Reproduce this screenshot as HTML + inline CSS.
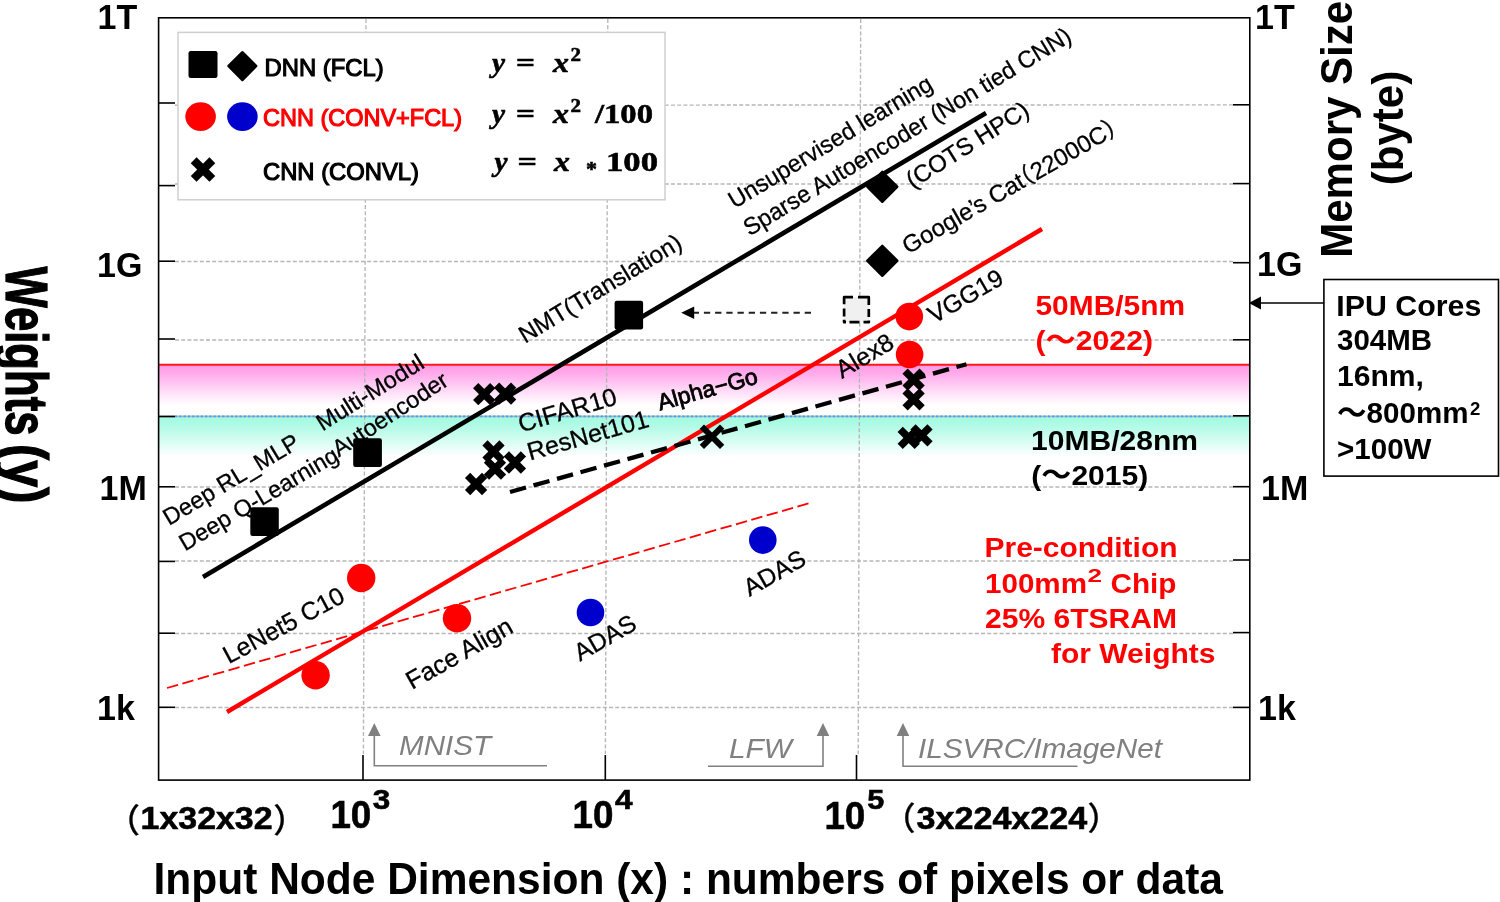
<!DOCTYPE html>
<html lang="en">
<head>
<meta charset="utf-8">
<title>Weights vs Input Node Dimension</title>
<style>
  html, body { margin: 0; padding: 0; background: #ffffff; }
  body { width: 1500px; height: 902px; overflow: hidden; }
  svg { display: block; }
  text { font-family: "Liberation Sans", "Noto Sans CJK JP", sans-serif; }
  .b { font-weight: bold; }
  .lbl { font-size: 24px; fill: #000; stroke: #000; stroke-width: 0.3px; }
  .grid { stroke: #b6b6b6; stroke-width: 1.35; stroke-dasharray: 4 2.2; fill: none; }
  .tick { stroke: #000; stroke-width: 1.6; fill: none; }
  .math { font-family: "Liberation Serif", "DejaVu Serif", serif; font-weight: bold; font-style: italic; font-size: 27px; }
  .mathn { font-family: "Liberation Serif", "DejaVu Serif", serif; font-weight: bold; font-size: 27px; }
</style>
</head>
<body>
<svg width="1500" height="902" viewBox="0 0 1500 902">
  <defs>
    <linearGradient id="gp" x1="0" y1="0" x2="0" y2="1">
      <stop offset="0" stop-color="#ff97e5"/>
      <stop offset="0.3" stop-color="#ffb4ed"/>
      <stop offset="0.65" stop-color="#ffdcf7"/>
      <stop offset="1" stop-color="#ffffff"/>
    </linearGradient>
    <linearGradient id="gc" x1="0" y1="0" x2="0" y2="1">
      <stop offset="0" stop-color="#a0fae0"/>
      <stop offset="0.3" stop-color="#b8fbe8"/>
      <stop offset="0.65" stop-color="#dcfdf4"/>
      <stop offset="1" stop-color="#ffffff"/>
    </linearGradient>
  </defs>
  <rect x="0" y="0" width="1500" height="902" fill="#ffffff"/>

  <!-- SECTION: bands -->
  <g id="bands">
    <rect x="159" y="365" width="1090" height="40" fill="url(#gp)"/>
    <rect x="159" y="417" width="1090" height="40" fill="url(#gc)"/>
  </g>

  <!-- SECTION: grid -->
  <g id="grid" class="grid">
    <line x1="175" y1="105.2" x2="1233" y2="104.9"/>
    <line x1="175" y1="184" x2="1233" y2="184"/>
    <line x1="175" y1="261.5" x2="1233" y2="261.5"/>
    <line x1="175" y1="340" x2="1233" y2="340"/>
    <line x1="175" y1="487" x2="1233" y2="487"/>
    <line x1="175" y1="561" x2="1233" y2="561"/>
    <line x1="175" y1="633.5" x2="1233" y2="633.5"/>
    <line x1="175" y1="707.5" x2="1233" y2="707.5"/>
    <line x1="366" y1="19" x2="363.4" y2="754"/>
    <line x1="607.8" y1="19" x2="605.4" y2="754"/>
    <line x1="860.7" y1="19" x2="858.2" y2="754"/>
  </g>
  <g id="band-lines">
    <line x1="159" y1="416.4" x2="1249" y2="416.4" stroke="#b4b4b4" stroke-width="1.6"/>
    <line x1="175" y1="416.4" x2="1233" y2="416.4" stroke="#3aa0ff" stroke-width="1.6" stroke-dasharray="2.1 2.2"/>
    <line x1="159" y1="364.7" x2="1249" y2="364.7" stroke="#ff1a1a" stroke-width="2"/>
  </g>

  <!-- SECTION: frame -->
  <g id="frame">
    <rect x="158.6" y="17.8" width="1091.2" height="762.3" fill="none" stroke="#000" stroke-width="1.6"/>
    <g class="tick">
      <line x1="158.6" y1="103" x2="175" y2="103"/>
      <line x1="158.6" y1="185.6" x2="175" y2="185.6"/>
      <line x1="158.6" y1="261.2" x2="175" y2="261.2"/>
      <line x1="158.6" y1="339" x2="175" y2="339"/>
      <line x1="158.6" y1="416.5" x2="175" y2="416.5"/>
      <line x1="158.6" y1="486.8" x2="175" y2="486.8"/>
      <line x1="158.6" y1="561.4" x2="175" y2="561.4"/>
      <line x1="158.6" y1="633.2" x2="175" y2="633.2"/>
      <line x1="158.6" y1="707.3" x2="175" y2="707.3"/>
      <line x1="1233" y1="104.8" x2="1249.8" y2="104.8"/>
      <line x1="1233" y1="183.6" x2="1249.8" y2="183.6"/>
      <line x1="1233" y1="262.7" x2="1249.8" y2="262.7"/>
      <line x1="1233" y1="339.8" x2="1249.8" y2="339.8"/>
      <line x1="1233" y1="415.8" x2="1249.8" y2="415.8"/>
      <line x1="1233" y1="486.7" x2="1249.8" y2="486.7"/>
      <line x1="1233" y1="560" x2="1249.8" y2="560"/>
      <line x1="1233" y1="632.6" x2="1249.8" y2="632.6"/>
      <line x1="1233" y1="707.4" x2="1249.8" y2="707.4"/>
      <line x1="363" y1="755" x2="363" y2="780"/>
      <line x1="605.3" y1="755" x2="605.3" y2="780"/>
      <line x1="856.5" y1="755" x2="856.5" y2="780"/>
    </g>
  </g>

  <!-- SECTION: axis-labels -->
  <g id="axis-labels" class="b" fill="#000">
    <text transform="translate(97.5 29.2) scale(0.958 1)" font-size="35.5">1T</text>
    <text transform="translate(97 277.2) scale(0.958 1)" font-size="35.5">1G</text>
    <text transform="translate(99.5 500) scale(0.958 1)" font-size="35.5">1M</text>
    <text transform="translate(97 720) scale(0.958 1)" font-size="35.5">1k</text>
    <text transform="translate(1255 28.7) scale(0.958 1)" font-size="35.5">1T</text>
    <text transform="translate(1257 276.3) scale(0.958 1)" font-size="35.5">1G</text>
    <text transform="translate(1261 499.7) scale(0.958 1)" font-size="35.5">1M</text>
    <text transform="translate(1258 719.8) scale(0.958 1)" font-size="35.5">1k</text>
    <text transform="translate(1351.5 129.3) rotate(-90)" text-anchor="middle" font-size="43.5" textLength="257" lengthAdjust="spacingAndGlyphs">Memory Size</text>
    <text transform="translate(1403.2 128) rotate(-90)" text-anchor="middle" font-size="43.5" textLength="114.5" lengthAdjust="spacingAndGlyphs">(byte)</text>
    <text transform="translate(6.2 266.5) rotate(90)" font-size="58.5" stroke="#000" stroke-width="1.3" textLength="169" lengthAdjust="spacingAndGlyphs">Weights</text>
    <text transform="translate(6.2 444) rotate(90)" font-size="58.5" stroke="#000" stroke-width="1.3" textLength="59.5" lengthAdjust="spacingAndGlyphs">(y)</text>
    <text x="153.5" y="893.6" font-size="44.5" textLength="1069.5" lengthAdjust="spacingAndGlyphs">Input Node Dimension (x) : numbers of pixels or data</text>
  </g>

  <!-- SECTION: xlabels -->
  <g id="xlabels" class="b" fill="#000" stroke="#000" stroke-width="0.6">
    <text transform="translate(330.4 827.5) scale(0.955 1)" font-size="38.5">10</text>
    <text x="372.8" y="808.7" font-size="27.5" textLength="17.5" lengthAdjust="spacingAndGlyphs">3</text>
    <text transform="translate(572.6 827.5) scale(0.955 1)" font-size="38.5">10</text>
    <text x="615" y="808.7" font-size="27.5" textLength="17.5" lengthAdjust="spacingAndGlyphs">4</text>
    <text transform="translate(824.4 828.5) scale(0.955 1)" font-size="38.5">10</text>
    <text x="867.3" y="809.2" font-size="27.5" textLength="17" lengthAdjust="spacingAndGlyphs">5</text>
    <text x="107" y="831.8" font-size="33" font-weight="500" stroke-width="0.3">（</text>
    <text x="140.6" y="829.4" font-size="31.8" textLength="132" lengthAdjust="spacingAndGlyphs">1x32x32</text>
    <text x="273.3" y="831.8" font-size="33" font-weight="500" stroke-width="0.3">）</text>
    <text x="883.4" y="830" font-size="32" font-weight="500" stroke-width="0.3">（</text>
    <text x="916.6" y="828.6" font-size="31.6" textLength="170.6" lengthAdjust="spacingAndGlyphs">3x224x224</text>
    <text x="1087.4" y="830" font-size="32" font-weight="500" stroke-width="0.3">）</text>
  </g>
  <!-- SECTION: legend -->
  <g id="legend">
    <rect x="178" y="32.4" width="487" height="167.4" fill="#ffffff" stroke="#cfcfcf" stroke-width="1.5"/>
    <rect x="188.5" y="51" width="29" height="27" rx="2.2" fill="#000"/>
    <path d="M242.4 52.6 L255.9 66 L242.4 79.6 L228.8 66 Z" fill="#000" stroke="#000" stroke-width="3" stroke-linejoin="round"/>
    <ellipse cx="200.6" cy="116.6" rx="15.3" ry="14.4" fill="#ff0000"/>
    <ellipse cx="242.4" cy="116.6" rx="15.3" ry="14.4" fill="#0000cc"/>
    <g fill="#000"><g transform="translate(203 169.6) rotate(45)"><rect x="-13.22" y="-4.10" width="26.45" height="8.20"/><rect x="-4.10" y="-13.22" width="8.20" height="26.45"/></g></g>
    <g font-size="24" stroke-width="1.15">
      <text x="264.6" y="76" fill="#000" stroke="#000" textLength="119" lengthAdjust="spacingAndGlyphs">DNN (FCL)</text>
      <text x="263" y="126" fill="#ff0000" stroke="#ff0000" textLength="199" lengthAdjust="spacingAndGlyphs">CNN (CONV+FCL)</text>
      <text x="263" y="180" fill="#000" stroke="#000" textLength="156" lengthAdjust="spacingAndGlyphs">CNN (CONVL)</text>
    </g>
    <g fill="#000" stroke="#000" stroke-width="0.55">
      <text class="math" x="492" y="72" textLength="13" lengthAdjust="spacingAndGlyphs">y</text>
      <text class="mathn" x="516" y="72" textLength="19" lengthAdjust="spacingAndGlyphs">=</text>
      <text class="math" x="553" y="72" textLength="16" lengthAdjust="spacingAndGlyphs">x</text>
      <text class="mathn" x="570.5" y="61" style="font-size:19px" textLength="10.5" lengthAdjust="spacingAndGlyphs">2</text>
      <text class="math" x="492" y="123" textLength="13" lengthAdjust="spacingAndGlyphs">y</text>
      <text class="mathn" x="516" y="123" textLength="19" lengthAdjust="spacingAndGlyphs">=</text>
      <text class="math" x="553" y="123" textLength="16" lengthAdjust="spacingAndGlyphs">x</text>
      <text class="mathn" x="570.5" y="112" style="font-size:19px" textLength="10.5" lengthAdjust="spacingAndGlyphs">2</text>
      <text class="mathn" x="595" y="123" textLength="58" lengthAdjust="spacingAndGlyphs">/100</text>
      <text class="math" x="494.5" y="171" textLength="13" lengthAdjust="spacingAndGlyphs">y</text>
      <text class="mathn" x="517.5" y="171" textLength="19.5" lengthAdjust="spacingAndGlyphs">=</text>
      <text class="math" x="554" y="171" textLength="16" lengthAdjust="spacingAndGlyphs">x</text>
      <text class="mathn" x="586" y="176" style="font-size:22px">*</text>
      <text class="mathn" x="606" y="171" textLength="52" lengthAdjust="spacingAndGlyphs">100</text>
    </g>
  </g>
  <!-- SECTION: lines -->
  <g id="lines" fill="none">
    <line x1="167" y1="688" x2="810" y2="503" stroke="#ff0000" stroke-width="1.8" stroke-dasharray="11.5 4.5"/>
    <line x1="203" y1="577" x2="986" y2="113" stroke="#000" stroke-width="4.6"/>
    <line x1="227" y1="712" x2="1042" y2="229" stroke="#ff0000" stroke-width="4.4"/>
    <line x1="510" y1="492" x2="966.5" y2="364.2" stroke="#000" stroke-width="4.3" stroke-dasharray="16.6 7.8"/>
    <line x1="811" y1="312.8" x2="693" y2="312.8" stroke="#222" stroke-width="1.9" stroke-dasharray="6.3 4.9"/>
    <path d="M681.2 312.8 L694.2 306.5 L694.2 319.1 Z" fill="#000"/>
  </g>
  <!-- SECTION: markers -->
  <g id="markers">
    <g fill="#000">
      <g transform="translate(484.2 394.1) rotate(45)"><rect x="-12.07" y="-3.70" width="24.14" height="7.40"/><rect x="-3.70" y="-12.07" width="7.40" height="24.14"/></g>
      <g transform="translate(505.1 393.6) rotate(45)"><rect x="-12.07" y="-3.70" width="24.14" height="7.40"/><rect x="-3.70" y="-12.07" width="7.40" height="24.14"/></g>
      <g transform="translate(493.5 451.5) rotate(45)"><rect x="-12.07" y="-3.70" width="24.14" height="7.40"/><rect x="-3.70" y="-12.07" width="7.40" height="24.14"/></g>
      <g transform="translate(514.9 462.5) rotate(45)"><rect x="-12.07" y="-3.70" width="24.14" height="7.40"/><rect x="-3.70" y="-12.07" width="7.40" height="24.14"/></g>
      <g transform="translate(495 468.6) rotate(45)"><rect x="-12.07" y="-3.70" width="24.14" height="7.40"/><rect x="-3.70" y="-12.07" width="7.40" height="24.14"/></g>
      <g transform="translate(476.1 484) rotate(45)"><rect x="-12.07" y="-3.70" width="24.14" height="7.40"/><rect x="-3.70" y="-12.07" width="7.40" height="24.14"/></g>
      <g transform="translate(712 436.8) rotate(45)"><rect x="-14.32" y="-3.00" width="28.65" height="6.00"/><rect x="-3.00" y="-14.32" width="6.00" height="28.65"/></g>
      <g transform="translate(913.6 379.6) rotate(45)"><rect x="-12.07" y="-3.70" width="24.14" height="7.40"/><rect x="-3.70" y="-12.07" width="7.40" height="24.14"/></g>
      <g transform="translate(913.6 399.4) rotate(45)"><rect x="-12.07" y="-3.70" width="24.14" height="7.40"/><rect x="-3.70" y="-12.07" width="7.40" height="24.14"/></g>
      <g transform="translate(908.7 437.8) rotate(45)"><rect x="-12.07" y="-3.70" width="24.14" height="7.40"/><rect x="-3.70" y="-12.07" width="7.40" height="24.14"/></g>
      <g transform="translate(921.5 435.3) rotate(45)"><rect x="-12.07" y="-3.70" width="24.14" height="7.40"/><rect x="-3.70" y="-12.07" width="7.40" height="24.14"/></g>
    </g>
    <g fill="#000">
      <rect x="250.3" y="507.3" width="28.5" height="28.7" rx="2.2"/>
      <rect x="353.2" y="438.3" width="28.7" height="28.6" rx="2.2"/>
      <rect x="614.6" y="300.8" width="28.5" height="28.6" rx="2.2"/>
      <path d="M882.3 172.2 L897 186.8 L882.3 201.4 L867.6 186.8 Z" stroke="#000" stroke-width="3" stroke-linejoin="round"/>
      <path d="M882.3 246.2 L897 260.8 L882.3 275.4 L867.6 260.8 Z" stroke="#000" stroke-width="3" stroke-linejoin="round"/>
    </g>
    <rect x="844" y="297" width="25" height="25.3" fill="#f0f0f0"/>
    <path d="M844.1 304.2 V297.2 H853 M858 297.2 H868.8 V305 M868.8 309 V317 M868.8 320.5 V322.2 H863.5 M859.5 322.2 H849.5 M846 322.2 H844.1 V319.8 M844.1 316.6 V308.6" fill="none" stroke="#000" stroke-width="2.7" stroke-linejoin="round"/>
    <g fill="#ff0000">
      <circle cx="361.2" cy="578" r="14.2"/>
      <circle cx="457" cy="618.3" r="14.2"/>
      <circle cx="315.6" cy="675.2" r="14.2"/>
      <circle cx="909.3" cy="316.6" r="13.8"/>
      <circle cx="909.6" cy="354.5" r="13.8"/>
    </g>
    <g fill="#0000cc">
      <circle cx="590.5" cy="612.5" r="13.8"/>
      <circle cx="762.8" cy="540.1" r="13.8"/>
    </g>
  </g>
  <!-- SECTION: labels -->
  <g id="labels" class="lbl">
    <text transform="translate(169 526) rotate(-31)" font-size="23.5">Deep RL_MLP</text>
    <text transform="translate(185 551.5) rotate(-30.6)" font-size="23.5">Deep Q-Learning</text>
    <text transform="translate(322.5 431.5) rotate(-32)" font-size="23.6">Multi-Modul</text>
    <text transform="translate(338.7 457.5) rotate(-33.3)" font-size="23.5">Autoencoder</text>
    <text transform="translate(525 343.7) rotate(-31.3)" >NMT(Translation)</text>
    <text transform="translate(734.5 209) rotate(-31.1)" textLength="233.5" lengthAdjust="spacingAndGlyphs">Unsupervised learning</text>
    <text transform="translate(749.5 236.5) rotate(-31.2)" textLength="378.5" lengthAdjust="spacingAndGlyphs">Sparse Autoencoder (Non tied CNN)</text>
    <text transform="translate(912.5 189) rotate(-32.2)" >(COTS HPC)</text>
    <text transform="translate(908 254.5) rotate(-29.9)" >Google’<tspan dx="-1.5">s</tspan> Cat<tspan dx="-13">（</tspan>22000C）</text>
    <text transform="translate(934 324) rotate(-30)" font-size="24.7">VGG19</text>
    <text transform="translate(842 379) rotate(-30.7)" font-size="25">Alex8</text>
    <text transform="translate(521 432.5) rotate(-16.3)" font-size="25">CIFAR10</text>
    <text transform="translate(530 460.5) rotate(-15.8)" font-size="25">ResNet101</text>
    <text transform="translate(660 410.5) rotate(-15.5)" font-size="23" stroke="#000" stroke-width="0.8">Alpha−Go</text>
    <text transform="translate(228.8 664.2) rotate(-28.2)" font-size="25">LeNet5 C10</text>
    <text transform="translate(412 690) rotate(-29.6)" font-size="25.3">Face Align</text>
    <text transform="translate(580 661.7) rotate(-29.8)" font-size="24.7">ADAS</text>
    <text transform="translate(749.5 597) rotate(-29.8)" font-size="24.7">ADAS</text>
  </g>
  <!-- SECTION: annotations -->
  <g id="annotations">
    <g class="b" fill="#ff0000" font-size="28.5">
      <text x="1035.5" y="315" textLength="149.5" lengthAdjust="spacingAndGlyphs">50MB/5nm</text>
      <text x="1035.5" y="350.3" textLength="117.5" lengthAdjust="spacingAndGlyphs">(～2022)</text>
      <text x="984.5" y="557.2" font-size="27.5" textLength="193" lengthAdjust="spacingAndGlyphs">Pre-condition</text>
      <text x="985" y="593" font-size="27.5" textLength="102" lengthAdjust="spacingAndGlyphs">100mm</text>
      <text x="1087.5" y="581.7" font-size="19.2" textLength="14.5" lengthAdjust="spacingAndGlyphs">2</text>
      <text x="1110.5" y="593" font-size="27.5" textLength="66" lengthAdjust="spacingAndGlyphs">Chip</text>
      <text x="985" y="628" font-size="27.5" textLength="192" lengthAdjust="spacingAndGlyphs">25% 6TSRAM</text>
      <text x="1051" y="663" font-size="27.5" textLength="164.5" lengthAdjust="spacingAndGlyphs">for Weights</text>
    </g>
    <g class="b" fill="#000" font-size="28.5">
      <text x="1031" y="450" textLength="167" lengthAdjust="spacingAndGlyphs">10MB/28nm</text>
      <text x="1031.3" y="485.3" textLength="117" lengthAdjust="spacingAndGlyphs">(～2015)</text>
    </g>
    <rect x="1323.9" y="279.5" width="174.6" height="196.6" fill="#fff" stroke="#000" stroke-width="1.6"/>
    <line x1="1260" y1="303" x2="1324" y2="303" stroke="#000" stroke-width="1.6"/>
    <path d="M1248.8 303 L1261 296.6 L1261 309.4 Z" fill="#000"/>
    <g class="b" fill="#000" font-size="30">
      <text x="1336.3" y="315.5" textLength="145" lengthAdjust="spacingAndGlyphs">IPU Cores</text>
      <text x="1337" y="349.8" textLength="95" lengthAdjust="spacingAndGlyphs">304MB</text>
      <text x="1337" y="385.7" textLength="87" lengthAdjust="spacingAndGlyphs">16nm,</text>
      <text x="1337" y="423" textLength="131.5" lengthAdjust="spacingAndGlyphs">～800mm</text>
      <text x="1470" y="414.6" font-size="18.6">2</text>
      <text x="1337" y="458.8" textLength="94.5" lengthAdjust="spacingAndGlyphs">&gt;100W</text>
    </g>
    <g fill="none" stroke="#808080" stroke-width="1.6">
      <path d="M374.3 733 L374.3 765.7 L547 765.7"/>
      <path d="M708 766.2 L823 766.2 L823 733"/>
      <path d="M903 733 L903 766.2 L1077.5 766.2"/>
    </g>
    <g fill="#808080">
      <path d="M374.3 722.9 L380.6 736 L368 736 Z"/>
      <path d="M823 722.9 L829.3 736 L816.7 736 Z"/>
      <path d="M903 722.9 L909.3 736 L896.7 736 Z"/>
    </g>
    <g fill="#808080" font-size="28.5" font-style="italic">
      <text x="399" y="754.8" textLength="92" lengthAdjust="spacingAndGlyphs">MNIST</text>
      <text x="729" y="757.7" textLength="63" lengthAdjust="spacingAndGlyphs">LFW</text>
      <text x="918" y="757.7" textLength="244" lengthAdjust="spacingAndGlyphs">ILSVRC/ImageNet</text>
    </g>
  </g>
</svg>
</body>
</html>
